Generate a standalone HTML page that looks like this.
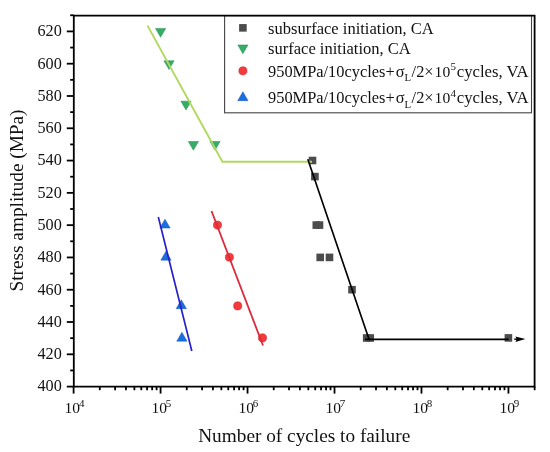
<!DOCTYPE html>
<html><head><meta charset="utf-8"><style>
html,body{margin:0;padding:0;background:#fff;}
svg{display:block;}
text{font-family:"Liberation Serif","Times New Roman",serif;fill:#111;}
</style></head><body>
<svg width="550" height="452" viewBox="0 0 550 452">
<rect width="550" height="452" fill="#fff"/>
<rect x="308.70" y="156.70" width="7.60" height="7.60" fill="#4c4c4c"/>
<rect x="311.10" y="172.80" width="7.60" height="7.60" fill="#4c4c4c"/>
<rect x="312.50" y="221.30" width="7.60" height="7.60" fill="#4c4c4c"/>
<rect x="315.70" y="221.30" width="7.60" height="7.60" fill="#4c4c4c"/>
<rect x="316.40" y="253.60" width="7.60" height="7.60" fill="#4c4c4c"/>
<rect x="325.70" y="253.60" width="7.60" height="7.60" fill="#4c4c4c"/>
<rect x="348.20" y="285.90" width="7.60" height="7.60" fill="#4c4c4c"/>
<rect x="362.90" y="334.20" width="7.60" height="7.60" fill="#4c4c4c"/>
<rect x="366.40" y="334.20" width="7.60" height="7.60" fill="#4c4c4c"/>
<rect x="504.60" y="334.10" width="7.60" height="7.60" fill="#4c4c4c"/>
<polygon points="155.50,28.47 165.70,28.47 160.60,37.27" fill="#33ad68" stroke="#2a8a55" stroke-width="0.5" stroke-linejoin="miter"/>
<polygon points="163.90,60.77 174.10,60.77 169.00,69.57" fill="#33ad68" stroke="#2a8a55" stroke-width="0.5" stroke-linejoin="miter"/>
<polygon points="180.90,101.17 191.10,101.17 186.00,109.97" fill="#33ad68" stroke="#2a8a55" stroke-width="0.5" stroke-linejoin="miter"/>
<polygon points="188.30,141.47 198.50,141.47 193.40,150.27" fill="#33ad68" stroke="#2a8a55" stroke-width="0.5" stroke-linejoin="miter"/>
<polygon points="209.90,141.47 220.10,141.47 215.00,150.27" fill="#33ad68" stroke="#2a8a55" stroke-width="0.5" stroke-linejoin="miter"/>
<circle cx="217.50" cy="225.10" r="4.05" fill="#f43a3a" stroke="#c82a36" stroke-width="0.6"/>
<circle cx="229.40" cy="257.20" r="4.05" fill="#f43a3a" stroke="#c82a36" stroke-width="0.6"/>
<circle cx="237.70" cy="305.90" r="4.05" fill="#f43a3a" stroke="#c82a36" stroke-width="0.6"/>
<circle cx="262.50" cy="337.90" r="4.05" fill="#f43a3a" stroke="#c82a36" stroke-width="0.6"/>
<polygon points="159.85,228.07 170.15,228.07 165.00,219.17" fill="#1a6fdf" stroke="#1656b8" stroke-width="0.5" stroke-linejoin="miter"/>
<polygon points="160.85,260.17 171.15,260.17 166.00,251.27" fill="#1a6fdf" stroke="#1656b8" stroke-width="0.5" stroke-linejoin="miter"/>
<polygon points="176.15,308.67 186.45,308.67 181.30,299.77" fill="#1a6fdf" stroke="#1656b8" stroke-width="0.5" stroke-linejoin="miter"/>
<polygon points="176.75,341.17 187.05,341.17 181.90,332.27" fill="#1a6fdf" stroke="#1656b8" stroke-width="0.5" stroke-linejoin="miter"/>
<polyline points="147.5,25.6 222.4,161.8 312,161.8" fill="none" stroke="#b0d95e" stroke-width="1.9" stroke-linejoin="miter"/>
<line x1="308.0" y1="159.8" x2="369.0" y2="339.3" stroke="#000" stroke-width="1.65" stroke-linecap="round"/>
<line x1="365" y1="339.3" x2="508.8" y2="339.3" stroke="#000" stroke-width="1.7"/>
<line x1="514.2" y1="339.2" x2="517" y2="339.2" stroke="#000" stroke-width="1.4"/>
<polygon points="525.4,339.1 515.4,336.6 516.8,339.2 515.4,341.9" fill="#000"/>
<line x1="211.5" y1="211" x2="263" y2="345.5" stroke="#dc2a3c" stroke-width="1.8"/>
<line x1="158.3" y1="217" x2="191.8" y2="351" stroke="#2620c8" stroke-width="1.7"/>
<rect x="224.6" y="15.6" width="306.9" height="97.2" fill="none" stroke="#444" stroke-width="1.1"/>
<rect x="239.10" y="24.05" width="7.60" height="7.60" fill="#4c4c4c"/>
<polygon points="237.80,44.97 248.00,44.97 242.90,53.77" fill="#33ad68" stroke="#2a8a55" stroke-width="0.5" stroke-linejoin="miter"/>
<circle cx="242.90" cy="70.85" r="4.05" fill="#f43a3a" stroke="#c82a36" stroke-width="0.6"/>
<polygon points="237.75,100.67 248.05,100.67 242.90,91.77" fill="#1a6fdf" stroke="#1656b8" stroke-width="0.5" stroke-linejoin="miter"/>
<text x="268.0" y="33.9" font-size="16.55">subsurface initiation, CA</text>
<text x="268.0" y="54.0" font-size="16.55">surface initiation, CA</text>
<text x="268.0" y="76.8" font-size="16.4">950MPa/10cycles+</text>
<text x="395.8" y="76.8" font-size="16.4">&#963;</text>
<text x="404.6" y="81.3" font-size="10.8">L</text>
<text x="411.6" y="76.8" font-size="16.4">/2&#215;</text>
<text x="434.6" y="76.8" font-size="15.6">10</text>
<text x="450.6" y="70.1" font-size="11">5</text>
<text x="456.8" y="76.8" font-size="16.7">cycles, VA</text>
<text x="268.0" y="103.3" font-size="16.4">950MPa/10cycles+</text>
<text x="395.8" y="103.3" font-size="16.4">&#963;</text>
<text x="404.6" y="107.8" font-size="10.8">L</text>
<text x="411.6" y="103.3" font-size="16.4">/2&#215;</text>
<text x="434.6" y="103.3" font-size="15.6">10</text>
<text x="450.6" y="96.6" font-size="11">4</text>
<text x="456.8" y="103.3" font-size="16.7">cycles, VA</text>
<path d="M73.8,15.6 H534.6 V386.6 H73.8 Z" fill="none" stroke="#000" stroke-width="1.8" stroke-linejoin="miter"/>
<line x1="66.80" y1="386.60" x2="73.80" y2="386.60" stroke="#000" stroke-width="1.8"/>
<text x="61.8" y="391.40" font-size="16.2" text-anchor="end">400</text>
<line x1="70.20" y1="370.46" x2="73.80" y2="370.46" stroke="#000" stroke-width="1.8"/>
<line x1="66.80" y1="354.31" x2="73.80" y2="354.31" stroke="#000" stroke-width="1.8"/>
<text x="61.8" y="359.11" font-size="16.2" text-anchor="end">420</text>
<line x1="70.20" y1="338.17" x2="73.80" y2="338.17" stroke="#000" stroke-width="1.8"/>
<line x1="66.80" y1="322.02" x2="73.80" y2="322.02" stroke="#000" stroke-width="1.8"/>
<text x="61.8" y="326.82" font-size="16.2" text-anchor="end">440</text>
<line x1="70.20" y1="305.88" x2="73.80" y2="305.88" stroke="#000" stroke-width="1.8"/>
<line x1="66.80" y1="289.73" x2="73.80" y2="289.73" stroke="#000" stroke-width="1.8"/>
<text x="61.8" y="294.53" font-size="16.2" text-anchor="end">460</text>
<line x1="70.20" y1="273.59" x2="73.80" y2="273.59" stroke="#000" stroke-width="1.8"/>
<line x1="66.80" y1="257.44" x2="73.80" y2="257.44" stroke="#000" stroke-width="1.8"/>
<text x="61.8" y="262.24" font-size="16.2" text-anchor="end">480</text>
<line x1="70.20" y1="241.30" x2="73.80" y2="241.30" stroke="#000" stroke-width="1.8"/>
<line x1="66.80" y1="225.15" x2="73.80" y2="225.15" stroke="#000" stroke-width="1.8"/>
<text x="61.8" y="229.95" font-size="16.2" text-anchor="end">500</text>
<line x1="70.20" y1="209.01" x2="73.80" y2="209.01" stroke="#000" stroke-width="1.8"/>
<line x1="66.80" y1="192.86" x2="73.80" y2="192.86" stroke="#000" stroke-width="1.8"/>
<text x="61.8" y="197.66" font-size="16.2" text-anchor="end">520</text>
<line x1="70.20" y1="176.72" x2="73.80" y2="176.72" stroke="#000" stroke-width="1.8"/>
<line x1="66.80" y1="160.57" x2="73.80" y2="160.57" stroke="#000" stroke-width="1.8"/>
<text x="61.8" y="165.37" font-size="16.2" text-anchor="end">540</text>
<line x1="70.20" y1="144.43" x2="73.80" y2="144.43" stroke="#000" stroke-width="1.8"/>
<line x1="66.80" y1="128.28" x2="73.80" y2="128.28" stroke="#000" stroke-width="1.8"/>
<text x="61.8" y="133.08" font-size="16.2" text-anchor="end">560</text>
<line x1="70.20" y1="112.13" x2="73.80" y2="112.13" stroke="#000" stroke-width="1.8"/>
<line x1="66.80" y1="95.99" x2="73.80" y2="95.99" stroke="#000" stroke-width="1.8"/>
<text x="61.8" y="100.79" font-size="16.2" text-anchor="end">580</text>
<line x1="70.20" y1="79.85" x2="73.80" y2="79.85" stroke="#000" stroke-width="1.8"/>
<line x1="66.80" y1="63.70" x2="73.80" y2="63.70" stroke="#000" stroke-width="1.8"/>
<text x="61.8" y="68.50" font-size="16.2" text-anchor="end">600</text>
<line x1="70.20" y1="47.56" x2="73.80" y2="47.56" stroke="#000" stroke-width="1.8"/>
<line x1="66.80" y1="31.41" x2="73.80" y2="31.41" stroke="#000" stroke-width="1.8"/>
<text x="61.8" y="36.21" font-size="16.2" text-anchor="end">620</text>
<line x1="70.20" y1="15.26" x2="73.80" y2="15.26" stroke="#000" stroke-width="1.8"/>
<line x1="73.60" y1="386.60" x2="73.60" y2="393.60" stroke="#000" stroke-width="1.8"/>
<line x1="99.78" y1="386.60" x2="99.78" y2="390.20" stroke="#000" stroke-width="1.8"/>
<line x1="115.10" y1="386.60" x2="115.10" y2="390.20" stroke="#000" stroke-width="1.8"/>
<line x1="125.96" y1="386.60" x2="125.96" y2="390.20" stroke="#000" stroke-width="1.8"/>
<line x1="134.39" y1="386.60" x2="134.39" y2="390.20" stroke="#000" stroke-width="1.8"/>
<line x1="141.28" y1="386.60" x2="141.28" y2="390.20" stroke="#000" stroke-width="1.8"/>
<line x1="147.10" y1="386.60" x2="147.10" y2="390.20" stroke="#000" stroke-width="1.8"/>
<line x1="152.14" y1="386.60" x2="152.14" y2="390.20" stroke="#000" stroke-width="1.8"/>
<line x1="156.59" y1="386.60" x2="156.59" y2="390.20" stroke="#000" stroke-width="1.8"/>
<line x1="160.57" y1="386.60" x2="160.57" y2="393.60" stroke="#000" stroke-width="1.8"/>
<line x1="186.75" y1="386.60" x2="186.75" y2="390.20" stroke="#000" stroke-width="1.8"/>
<line x1="202.07" y1="386.60" x2="202.07" y2="390.20" stroke="#000" stroke-width="1.8"/>
<line x1="212.93" y1="386.60" x2="212.93" y2="390.20" stroke="#000" stroke-width="1.8"/>
<line x1="221.36" y1="386.60" x2="221.36" y2="390.20" stroke="#000" stroke-width="1.8"/>
<line x1="228.25" y1="386.60" x2="228.25" y2="390.20" stroke="#000" stroke-width="1.8"/>
<line x1="234.07" y1="386.60" x2="234.07" y2="390.20" stroke="#000" stroke-width="1.8"/>
<line x1="239.11" y1="386.60" x2="239.11" y2="390.20" stroke="#000" stroke-width="1.8"/>
<line x1="243.56" y1="386.60" x2="243.56" y2="390.20" stroke="#000" stroke-width="1.8"/>
<line x1="247.54" y1="386.60" x2="247.54" y2="393.60" stroke="#000" stroke-width="1.8"/>
<line x1="273.72" y1="386.60" x2="273.72" y2="390.20" stroke="#000" stroke-width="1.8"/>
<line x1="289.04" y1="386.60" x2="289.04" y2="390.20" stroke="#000" stroke-width="1.8"/>
<line x1="299.90" y1="386.60" x2="299.90" y2="390.20" stroke="#000" stroke-width="1.8"/>
<line x1="308.33" y1="386.60" x2="308.33" y2="390.20" stroke="#000" stroke-width="1.8"/>
<line x1="315.22" y1="386.60" x2="315.22" y2="390.20" stroke="#000" stroke-width="1.8"/>
<line x1="321.04" y1="386.60" x2="321.04" y2="390.20" stroke="#000" stroke-width="1.8"/>
<line x1="326.08" y1="386.60" x2="326.08" y2="390.20" stroke="#000" stroke-width="1.8"/>
<line x1="330.53" y1="386.60" x2="330.53" y2="390.20" stroke="#000" stroke-width="1.8"/>
<line x1="334.51" y1="386.60" x2="334.51" y2="393.60" stroke="#000" stroke-width="1.8"/>
<line x1="360.69" y1="386.60" x2="360.69" y2="390.20" stroke="#000" stroke-width="1.8"/>
<line x1="376.01" y1="386.60" x2="376.01" y2="390.20" stroke="#000" stroke-width="1.8"/>
<line x1="386.87" y1="386.60" x2="386.87" y2="390.20" stroke="#000" stroke-width="1.8"/>
<line x1="395.30" y1="386.60" x2="395.30" y2="390.20" stroke="#000" stroke-width="1.8"/>
<line x1="402.19" y1="386.60" x2="402.19" y2="390.20" stroke="#000" stroke-width="1.8"/>
<line x1="408.01" y1="386.60" x2="408.01" y2="390.20" stroke="#000" stroke-width="1.8"/>
<line x1="413.05" y1="386.60" x2="413.05" y2="390.20" stroke="#000" stroke-width="1.8"/>
<line x1="417.50" y1="386.60" x2="417.50" y2="390.20" stroke="#000" stroke-width="1.8"/>
<line x1="421.48" y1="386.60" x2="421.48" y2="393.60" stroke="#000" stroke-width="1.8"/>
<line x1="447.66" y1="386.60" x2="447.66" y2="390.20" stroke="#000" stroke-width="1.8"/>
<line x1="462.98" y1="386.60" x2="462.98" y2="390.20" stroke="#000" stroke-width="1.8"/>
<line x1="473.84" y1="386.60" x2="473.84" y2="390.20" stroke="#000" stroke-width="1.8"/>
<line x1="482.27" y1="386.60" x2="482.27" y2="390.20" stroke="#000" stroke-width="1.8"/>
<line x1="489.16" y1="386.60" x2="489.16" y2="390.20" stroke="#000" stroke-width="1.8"/>
<line x1="494.98" y1="386.60" x2="494.98" y2="390.20" stroke="#000" stroke-width="1.8"/>
<line x1="500.02" y1="386.60" x2="500.02" y2="390.20" stroke="#000" stroke-width="1.8"/>
<line x1="504.47" y1="386.60" x2="504.47" y2="390.20" stroke="#000" stroke-width="1.8"/>
<line x1="508.45" y1="386.60" x2="508.45" y2="393.60" stroke="#000" stroke-width="1.8"/>
<line x1="534.63" y1="386.60" x2="534.63" y2="390.20" stroke="#000" stroke-width="1.8"/>
<text x="64.60" y="413.0" font-size="15.5">10</text>
<text x="78.90" y="406.9" font-size="11">4</text>
<text x="151.57" y="413.0" font-size="15.5">10</text>
<text x="165.87" y="406.9" font-size="11">5</text>
<text x="238.54" y="413.0" font-size="15.5">10</text>
<text x="252.84" y="406.9" font-size="11">6</text>
<text x="325.51" y="413.0" font-size="15.5">10</text>
<text x="339.81" y="406.9" font-size="11">7</text>
<text x="412.48" y="413.0" font-size="15.5">10</text>
<text x="426.78" y="406.9" font-size="11">8</text>
<text x="499.45" y="413.0" font-size="15.5">10</text>
<text x="513.75" y="406.9" font-size="11">9</text>
<text x="304.2" y="441.6" font-size="19.3" text-anchor="middle">Number of cycles to failure</text>
<text transform="translate(23.2,200.5) rotate(-90)" x="0" y="0" font-size="19.3" text-anchor="middle">Stress amplitude (MPa)</text>
</svg>
</body></html>
